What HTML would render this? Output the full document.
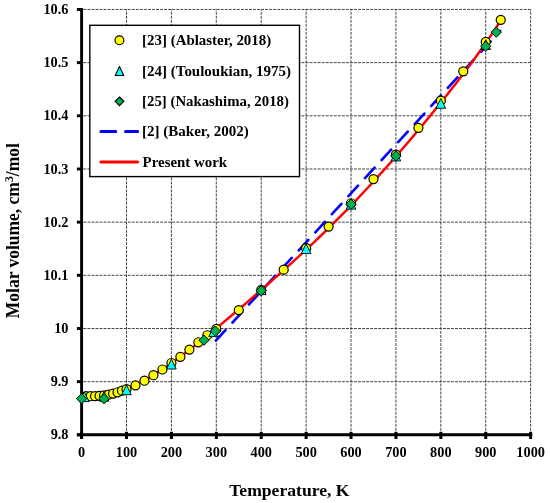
<!DOCTYPE html>
<html lang="en"><head><meta charset="utf-8"><title>Molar volume</title>
<style>html,body{margin:0;padding:0;background:#fff}svg{display:block}text{font-family:"Liberation Serif","Times New Roman",serif;font-weight:bold;fill:#000}</style></head><body>
<svg width="550" height="503" viewBox="0 0 550 503">
<rect width="550" height="503" fill="#fff"/>
<g stroke="#333" stroke-width="0.92" stroke-dasharray="2.9 1.14" fill="none" shape-rendering="auto">
<line x1="126.50" y1="434.85" x2="126.50" y2="9.45"/>
<line x1="171.41" y1="434.85" x2="171.41" y2="9.45"/>
<line x1="216.31" y1="434.85" x2="216.31" y2="9.45"/>
<line x1="261.22" y1="434.85" x2="261.22" y2="9.45"/>
<line x1="306.12" y1="434.85" x2="306.12" y2="9.45"/>
<line x1="351.03" y1="434.85" x2="351.03" y2="9.45"/>
<line x1="395.93" y1="434.85" x2="395.93" y2="9.45"/>
<line x1="440.84" y1="434.85" x2="440.84" y2="9.45"/>
<line x1="485.74" y1="434.85" x2="485.74" y2="9.45"/>
<line x1="530.65" y1="434.85" x2="530.65" y2="9.45"/>
<line x1="530.65" y1="381.68" x2="81.60" y2="381.68"/>
<line x1="530.65" y1="328.50" x2="81.60" y2="328.50"/>
<line x1="530.65" y1="275.32" x2="81.60" y2="275.32"/>
<line x1="530.65" y1="222.15" x2="81.60" y2="222.15"/>
<line x1="530.65" y1="168.98" x2="81.60" y2="168.98"/>
<line x1="530.65" y1="115.80" x2="81.60" y2="115.80"/>
<line x1="530.65" y1="62.63" x2="81.60" y2="62.63"/>
<line x1="530.65" y1="9.45" x2="81.60" y2="9.45"/>
</g>
<g stroke="#000" fill="none">
<line x1="81.60" y1="8.00" x2="81.60" y2="438.85" stroke-width="2.9"/>
<line x1="76.90" y1="434.70" x2="532.15" y2="434.70" stroke-width="3"/>
<line x1="81.60" y1="431.80" x2="81.60" y2="439.00" stroke-width="3"/>
<line x1="126.50" y1="431.80" x2="126.50" y2="439.00" stroke-width="3"/>
<line x1="171.41" y1="431.80" x2="171.41" y2="439.00" stroke-width="3"/>
<line x1="216.31" y1="431.80" x2="216.31" y2="439.00" stroke-width="3"/>
<line x1="261.22" y1="431.80" x2="261.22" y2="439.00" stroke-width="3"/>
<line x1="306.12" y1="431.80" x2="306.12" y2="439.00" stroke-width="3"/>
<line x1="351.03" y1="431.80" x2="351.03" y2="439.00" stroke-width="3"/>
<line x1="395.93" y1="431.80" x2="395.93" y2="439.00" stroke-width="3"/>
<line x1="440.84" y1="431.80" x2="440.84" y2="439.00" stroke-width="3"/>
<line x1="485.74" y1="431.80" x2="485.74" y2="439.00" stroke-width="3"/>
<line x1="530.65" y1="431.80" x2="530.65" y2="439.00" stroke-width="3"/>
<line x1="76.90" y1="434.85" x2="81.60" y2="434.85" stroke-width="2.9"/>
<line x1="76.90" y1="381.68" x2="81.60" y2="381.68" stroke-width="2.9"/>
<line x1="76.90" y1="328.50" x2="81.60" y2="328.50" stroke-width="2.9"/>
<line x1="76.90" y1="275.32" x2="81.60" y2="275.32" stroke-width="2.9"/>
<line x1="76.90" y1="222.15" x2="81.60" y2="222.15" stroke-width="2.9"/>
<line x1="76.90" y1="168.98" x2="81.60" y2="168.98" stroke-width="2.9"/>
<line x1="76.90" y1="115.80" x2="81.60" y2="115.80" stroke-width="2.9"/>
<line x1="76.90" y1="62.63" x2="81.60" y2="62.63" stroke-width="2.9"/>
<line x1="76.90" y1="9.45" x2="81.60" y2="9.45" stroke-width="2.9"/>
</g>
<g font-size="14.3" text-anchor="middle">
<text x="81.60" y="456.6">0</text>
<text x="126.50" y="456.6">100</text>
<text x="171.41" y="456.6">200</text>
<text x="216.31" y="456.6">300</text>
<text x="261.22" y="456.6">400</text>
<text x="306.12" y="456.6">500</text>
<text x="351.03" y="456.6">600</text>
<text x="395.93" y="456.6">700</text>
<text x="440.84" y="456.6">800</text>
<text x="485.74" y="456.6">900</text>
<text x="530.65" y="456.6">1000</text>
</g>
<g font-size="14.3" text-anchor="end">
<text x="68.5" y="439.45">9.8</text>
<text x="68.5" y="386.28">9.9</text>
<text x="68.5" y="333.10">10</text>
<text x="68.5" y="279.92">10.1</text>
<text x="68.5" y="226.75">10.2</text>
<text x="68.5" y="173.58">10.3</text>
<text x="68.5" y="120.40">10.4</text>
<text x="68.5" y="67.23">10.5</text>
<text x="68.5" y="14.05">10.6</text>
</g>
<text x="229.2" y="496.4" font-size="17.4" textLength="120.4" lengthAdjust="spacingAndGlyphs">Temperature, K</text>
<text transform="translate(19.3 318.2) rotate(-90)" font-size="18" textLength="175" lengthAdjust="spacingAndGlyphs">Molar volume, cm<tspan font-size="12" dy="-6.6">3</tspan><tspan dy="6.6">/mol</tspan></text>
<path d="M215.87 340.57 L500.11 30.99" fill="none" stroke="#0000ff" stroke-width="2.6" stroke-linecap="round" stroke-dasharray="14.2 10.3"/>
<path d="M81.60 395.65 L84.62 396.03 L87.63 396.28 L90.65 396.40 L93.67 396.39 L96.69 396.27 L99.70 396.02 L102.72 395.66 L105.74 395.18 L108.76 394.59 L111.77 393.89 L114.79 393.09 L117.81 392.19 L120.83 391.19 L123.84 390.10 L126.86 388.92 L129.88 387.65 L132.90 386.30 L135.91 384.87 L138.93 383.36 L141.95 381.78 L144.96 380.13 L147.98 378.41 L151.00 376.63 L154.02 374.79 L157.03 372.90 L160.05 370.95 L163.07 368.96 L166.09 366.91 L169.10 364.83 L172.12 362.70 L175.14 360.53 L178.16 358.33 L181.17 356.09 L184.19 353.82 L187.21 351.52 L190.22 349.20 L193.24 346.85 L196.26 344.48 L199.28 342.08 L202.29 339.67 L205.31 337.24 L208.33 334.79 L211.35 332.33 L214.36 329.85 L217.38 327.35 L220.40 324.85 L223.42 322.33 L226.43 319.81 L229.45 317.27 L232.47 314.73 L235.49 312.17 L238.50 309.61 L241.52 307.03 L244.54 304.45 L247.55 301.87 L250.57 299.27 L253.59 296.66 L256.61 294.05 L259.62 291.43 L262.64 288.80 L265.66 286.16 L268.68 283.51 L271.69 280.85 L274.71 278.18 L277.73 275.50 L280.75 272.81 L283.76 270.10 L286.78 267.39 L289.80 264.66 L292.82 261.91 L295.83 259.16 L298.85 256.39 L301.87 253.60 L304.88 250.79 L307.90 247.97 L310.92 245.13 L313.94 242.28 L316.95 239.40 L319.97 236.51 L322.99 233.60 L326.01 230.66 L329.02 227.71 L332.04 224.73 L335.06 221.74 L338.08 218.72 L341.09 215.67 L344.11 212.61 L347.13 209.52 L350.14 206.41 L353.16 203.28 L356.18 200.13 L359.20 196.95 L362.21 193.74 L365.23 190.52 L368.25 187.27 L371.27 184.00 L374.28 180.70 L377.30 177.38 L380.32 174.04 L383.34 170.68 L386.35 167.29 L389.37 163.88 L392.39 160.45 L395.41 157.00 L398.42 153.53 L401.44 150.03 L404.46 146.52 L407.47 142.98 L410.49 139.43 L413.51 135.85 L416.53 132.26 L419.54 128.64 L422.56 125.01 L425.58 121.35 L428.60 117.68 L431.61 113.99 L434.63 110.27 L437.65 106.54 L440.67 102.78 L443.68 99.00 L446.70 95.19 L449.72 91.37 L452.73 87.51 L455.75 83.63 L458.77 79.72 L461.79 75.78 L464.80 71.80 L467.82 67.79 L470.84 63.73 L473.86 59.64 L476.87 55.49 L479.89 51.30 L482.91 47.05 L485.93 42.73 L488.94 38.35 L491.96 33.90 L494.98 29.37 L498.00 24.74 L501.01 20.03" fill="none" stroke="#ff0000" stroke-width="2.45" stroke-linejoin="round" stroke-linecap="round"/>
<g>
<circle cx="86.09" cy="396.24" r="4.52" fill="#ffff00" stroke="#000" stroke-width="1.2"/>
<circle cx="90.58" cy="396.24" r="4.52" fill="#ffff00" stroke="#000" stroke-width="1.2"/>
<circle cx="95.07" cy="396.14" r="4.52" fill="#ffff00" stroke="#000" stroke-width="1.2"/>
<circle cx="99.56" cy="395.87" r="4.52" fill="#ffff00" stroke="#000" stroke-width="1.2"/>
<circle cx="104.05" cy="395.45" r="4.52" fill="#ffff00" stroke="#000" stroke-width="1.2"/>
<circle cx="108.54" cy="394.65" r="4.52" fill="#ffff00" stroke="#000" stroke-width="1.2"/>
<circle cx="113.03" cy="393.59" r="4.52" fill="#ffff00" stroke="#000" stroke-width="1.2"/>
<circle cx="117.52" cy="392.26" r="4.52" fill="#ffff00" stroke="#000" stroke-width="1.2"/>
<circle cx="122.01" cy="390.66" r="4.52" fill="#ffff00" stroke="#000" stroke-width="1.2"/>
<circle cx="126.50" cy="389.07" r="4.52" fill="#ffff00" stroke="#000" stroke-width="1.2"/>
<circle cx="135.49" cy="385.34" r="4.52" fill="#ffff00" stroke="#000" stroke-width="1.2"/>
<circle cx="144.47" cy="380.72" r="4.52" fill="#ffff00" stroke="#000" stroke-width="1.2"/>
<circle cx="153.45" cy="375.24" r="4.52" fill="#ffff00" stroke="#000" stroke-width="1.2"/>
<circle cx="162.43" cy="369.50" r="4.52" fill="#ffff00" stroke="#000" stroke-width="1.2"/>
<circle cx="171.41" cy="363.01" r="4.52" fill="#ffff00" stroke="#000" stroke-width="1.2"/>
<circle cx="180.39" cy="356.84" r="4.52" fill="#ffff00" stroke="#000" stroke-width="1.2"/>
<circle cx="189.37" cy="349.56" r="4.52" fill="#ffff00" stroke="#000" stroke-width="1.2"/>
<circle cx="198.35" cy="342.27" r="4.52" fill="#ffff00" stroke="#000" stroke-width="1.2"/>
<circle cx="207.33" cy="335.25" r="4.52" fill="#ffff00" stroke="#000" stroke-width="1.2"/>
<circle cx="216.31" cy="328.98" r="4.52" fill="#ffff00" stroke="#000" stroke-width="1.2"/>
<circle cx="238.77" cy="310.10" r="4.52" fill="#ffff00" stroke="#000" stroke-width="1.2"/>
<circle cx="261.22" cy="290.21" r="4.52" fill="#ffff00" stroke="#000" stroke-width="1.2"/>
<circle cx="283.67" cy="269.69" r="4.52" fill="#ffff00" stroke="#000" stroke-width="1.2"/>
<circle cx="306.12" cy="248.21" r="4.52" fill="#ffff00" stroke="#000" stroke-width="1.2"/>
<circle cx="328.58" cy="226.56" r="4.52" fill="#ffff00" stroke="#000" stroke-width="1.2"/>
<circle cx="351.03" cy="203.27" r="4.52" fill="#ffff00" stroke="#000" stroke-width="1.2"/>
<circle cx="373.48" cy="179.08" r="4.52" fill="#ffff00" stroke="#000" stroke-width="1.2"/>
<circle cx="395.93" cy="154.62" r="4.52" fill="#ffff00" stroke="#000" stroke-width="1.2"/>
<circle cx="418.39" cy="127.82" r="4.52" fill="#ffff00" stroke="#000" stroke-width="1.2"/>
<circle cx="440.84" cy="100.65" r="4.52" fill="#ffff00" stroke="#000" stroke-width="1.2"/>
<circle cx="463.29" cy="71.35" r="4.52" fill="#ffff00" stroke="#000" stroke-width="1.2"/>
<circle cx="485.74" cy="41.89" r="4.52" fill="#ffff00" stroke="#000" stroke-width="1.2"/>
<circle cx="500.74" cy="19.82" r="4.52" fill="#ffff00" stroke="#000" stroke-width="1.2"/>
<path d="M84.29 391.83 L89.09 401.63 L79.49 401.63 Z" fill="#00ffff" stroke="#000" stroke-width="0.90" stroke-linejoin="round"/>
<path d="M104.05 391.40 L108.85 401.20 L99.25 401.20 Z" fill="#00ffff" stroke="#000" stroke-width="0.90" stroke-linejoin="round"/>
<path d="M126.50 384.92 L131.31 394.72 L121.70 394.72 Z" fill="#00ffff" stroke="#000" stroke-width="0.90" stroke-linejoin="round"/>
<path d="M171.41 359.23 L176.21 369.03 L166.61 369.03 Z" fill="#00ffff" stroke="#000" stroke-width="0.90" stroke-linejoin="round"/>
<path d="M213.62 326.85 L218.42 336.65 L208.82 336.65 Z" fill="#00ffff" stroke="#000" stroke-width="0.90" stroke-linejoin="round"/>
<path d="M261.22 284.79 L266.02 294.59 L256.42 294.59 Z" fill="#00ffff" stroke="#000" stroke-width="0.90" stroke-linejoin="round"/>
<path d="M306.12 243.74 L310.93 253.54 L301.32 253.54 Z" fill="#00ffff" stroke="#000" stroke-width="0.90" stroke-linejoin="round"/>
<path d="M351.03 199.34 L355.83 209.14 L346.23 209.14 Z" fill="#00ffff" stroke="#000" stroke-width="0.90" stroke-linejoin="round"/>
<path d="M395.93 151.11 L400.73 160.91 L391.13 160.91 Z" fill="#00ffff" stroke="#000" stroke-width="0.90" stroke-linejoin="round"/>
<path d="M440.84 98.46 L445.64 108.26 L436.04 108.26 Z" fill="#00ffff" stroke="#000" stroke-width="0.90" stroke-linejoin="round"/>
<path d="M485.74 39.71 L490.54 49.51 L480.94 49.51 Z" fill="#00ffff" stroke="#000" stroke-width="0.90" stroke-linejoin="round"/>
<path d="M81.60 393.54 L86.75 398.69 L81.60 403.84 L76.45 398.69 Z" fill="#00b050" stroke="#000" stroke-width="0.95"/>
<path d="M104.05 393.54 L109.20 398.69 L104.05 403.84 L98.90 398.69 Z" fill="#00b050" stroke="#000" stroke-width="0.95"/>
<path d="M203.97 335.05 L209.12 340.20 L203.97 345.35 L198.82 340.20 Z" fill="#00b050" stroke="#000" stroke-width="0.95"/>
<path d="M215.42 325.90 L220.57 331.05 L215.42 336.20 L210.27 331.05 Z" fill="#00b050" stroke="#000" stroke-width="0.95"/>
<path d="M261.22 285.54 L266.37 290.69 L261.22 295.84 L256.07 290.69 Z" fill="#00b050" stroke="#000" stroke-width="0.95"/>
<path d="M351.03 199.03 L356.18 204.18 L351.03 209.33 L345.88 204.18 Z" fill="#00b050" stroke="#000" stroke-width="0.95"/>
<path d="M395.93 150.80 L401.08 155.95 L395.93 161.10 L390.78 155.95 Z" fill="#00b050" stroke="#000" stroke-width="0.95"/>
<path d="M485.74 41.15 L490.89 46.30 L485.74 51.45 L480.59 46.30 Z" fill="#00b050" stroke="#000" stroke-width="0.95"/>
<path d="M496.25 27.06 L501.40 32.21 L496.25 37.36 L491.10 32.21 Z" fill="#00b050" stroke="#000" stroke-width="0.95"/>
</g>
<rect x="89.8" y="25.3" width="209.7" height="151.3" fill="#fff" stroke="#000" stroke-width="1.4"/>
<circle cx="119.40" cy="40.30" r="4.45" fill="#ffff00" stroke="#000" stroke-width="1.2"/>
<path d="M119.50 66.60 L123.80 75.50 L115.20 75.50 Z" fill="#00ffff" stroke="#000" stroke-width="1.10" stroke-linejoin="round"/>
<path d="M119.50 97.00 L123.80 101.30 L119.50 105.60 L115.20 101.30 Z" fill="#00b050" stroke="#000" stroke-width="1.20"/>
<line x1="100.9" y1="131.5" x2="137.6" y2="131.5" stroke="#0000ff" stroke-width="3" stroke-linecap="round" stroke-dasharray="14.9 9.7"/>
<line x1="100.9" y1="161.9" x2="137.6" y2="161.9" stroke="#ff0000" stroke-width="3" stroke-linecap="round"/>
<g font-size="15.05">
<text x="142.1" y="45.30" textLength="129.1" lengthAdjust="spacingAndGlyphs">[23] (Ablaster, 2018)</text>
<text x="142.1" y="75.60" textLength="148.8" lengthAdjust="spacingAndGlyphs">[24] (Touloukian, 1975)</text>
<text x="142.1" y="105.90" textLength="146.8" lengthAdjust="spacingAndGlyphs">[25] (Nakashima, 2018)</text>
<text x="142.1" y="136.20" textLength="106.6" lengthAdjust="spacingAndGlyphs">[2] (Baker, 2002)</text>
<text x="142.6" y="166.50" textLength="84.5" lengthAdjust="spacingAndGlyphs">Present work</text>
</g>
</svg></body></html>
